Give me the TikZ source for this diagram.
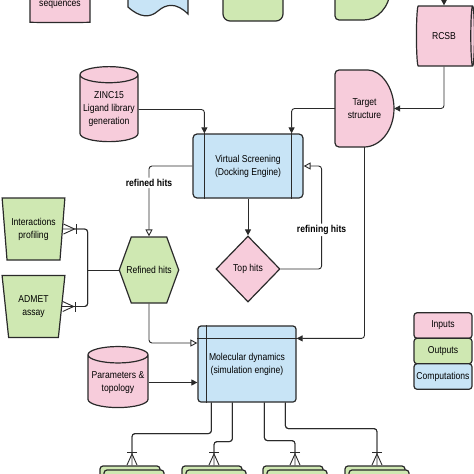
\documentclass[tikz,border=0pt]{standalone}
\usepackage{fontspec}
\setmainfont{Liberation Sans}[FakeStretch=0.86]
\usetikzlibrary{shapes.geometric, shapes.symbols, arrows.meta, shadows}
\definecolor{inpink}{HTML}{F7CCDB}
\definecolor{outgreen}{HTML}{CFE8B2}
\definecolor{compblue}{HTML}{C8E4F6}
\definecolor{inkgray}{HTML}{2A2A2A}

\begin{document}
\begin{tikzpicture}[x=1pt, y=-1pt,
    font=\fontsize{10}{13}\selectfont,
    box/.style={draw=inkgray, line width=1.2pt, align=center, inner sep=1pt},
    inbox/.style={box, fill=inpink},
    outbox/.style={box, fill=outgreen},
    compbox/.style={box, fill=compblue},
    db/.style={cylinder, shape border rotate=90, aspect=0.3},
    funnel/.style={trapezium, shape border rotate=180, trapezium left angle=80,
        trapezium right angle=80, trapezium stretches=true, minimum width=63, minimum height=62},
    stack/.style={rounded corners=3pt, minimum width=60, minimum height=40,
        copy shadow={shadow xshift=-4pt, shadow yshift=4pt}},
    link/.style={draw=inkgray, line width=0.9pt, rounded corners=3pt},
    filledtip/.style={-{Triangle[length=6pt, width=6pt]}},
    opentip/.style={-{Triangle[open, length=7pt, width=7pt]}},
    crow/.style={-{Bar[width=10pt] Straight Barb[reversed, length=11pt, width=10pt]}, postaction={draw, -}},
    lbl/.style={font=\fontsize{10}{13}\selectfont\bfseries, fill=white, inner sep=1.5pt}]
    \useasboundingbox (0,0) rectangle (474,474);

    % top row, cut off by the frame
    \node[db, inbox, minimum width=60, minimum height=76] (seqdb) at (60,-15) {};
    \node (seqtxt) at (60,5) {sequences};
    \draw[compbox] (128,-20) -- (128,7) .. controls (140,18) and (150,18) .. (158,11)
        .. controls (166,4) and (176,2) .. (188,14) -- (188,-20) -- cycle;
    \draw[outbox, rounded corners=7pt] (223,-20) -- (223,21) -- (283,21) -- (283,-20) -- cycle;
    \draw[outbox] (360,20) .. controls (377,20) and (390,7) .. (390,-10) -- (390,-20)
        -- (335,-20) [rounded corners=4pt] -- (335,20) -- cycle;

    % structure source
    \coordinate (pdbin) at (444,-6);
    \node[cylinder, inbox, aspect=0.4, minimum width=60, minimum height=58] (rcsb) at (444,36) {RCSB};
    \draw[inbox] (364,70) .. controls (380.6,70) and (394,87.2) .. (394,108.5)
        .. controls (394,129.8) and (380.6,147) .. (364,147) [rounded corners=4pt]
        -- (335,147) -- (335,70) -- cycle;
    \node[align=center, minimum width=59, minimum height=77] (target) at (364.5,108.5) {Target\\structure};

    % ligands and docking
    \node[db, inbox, minimum width=58, minimum height=75] (zinc) at (109,109.5) {ZINC15\\Ligand library\\generation};
    \node[compbox, rounded corners=4pt, minimum width=110, minimum height=64] (vs) at (248,166)
        {Virtual Screening\\(Docking Engine)};
    \draw[inkgray, line width=1.2pt] ([xshift=12pt]vs.north west) -- ([xshift=12pt]vs.south west)
        ([xshift=-12pt]vs.north east) -- ([xshift=-12pt]vs.south east);
    \node[inbox, diamond, minimum width=64, minimum height=66, inner sep=0pt] (tophits) at (248,269) {Top hits};
    \node[outbox, signal, signal to=east and west, signal pointer angle=140, inner xsep=-5pt,
        minimum height=66] (refined) at (149,270) {Refined hits};

    % analyses of the refined hits
    \node[outbox, funnel] (iprof) at (33.5,229) {Interactions\\profiling};
    \node[outbox, funnel] (admet) at (33.5,306.5) {ADMET\\assay};

    % molecular dynamics
    \node[compbox, rounded corners=3pt, minimum width=98, minimum height=76] (md) at (247,364)
        {Molecular dynamics\\(simulation engine)};
    \draw[inkgray, line width=1.2pt] ([xshift=9pt]md.north west) -- ([xshift=9pt]md.south west)
        ([yshift=-13pt]md.north west) -- ([yshift=-13pt]md.north east);
    \node[db, inbox, minimum width=60, minimum height=61] (params) at (118,382.5) {Parameters \&\\topology};

    % outputs below, cut off by the frame
    \node[outbox, stack] (b1) at (134,490) {};
    \node[outbox, stack] (b2) at (216,490) {};
    \node[outbox, stack] (b3) at (297,490) {};
    \node[outbox, stack] (b4) at (379,490) {};

    % legend
    \node[inbox, rounded corners=3pt, minimum width=58, minimum height=25.5] (leg1) at (443,325.5) {Inputs};
    \node[outbox, rounded corners=3pt, minimum width=58, minimum height=25.5] (leg2) at (443,351) {Outputs};
    \node[compbox, rounded corners=3pt, minimum width=58, minimum height=25.5] (leg3) at (443,376.5) {Computations};

    % connectors
    \draw[link, filledtip] (pdbin) -- (rcsb.north);
    \draw[link, filledtip] (rcsb.south) |- (target.east);
    \draw[link, filledtip] (target.west) -| ([xshift=-12pt]vs.north east);
    \draw[link, filledtip] (zinc.east) -| ([xshift=12pt]vs.north west);
    \draw[link, opentip] (vs.west) -| node[lbl, pos=0.62] {refined hits} (refined.north);
    \draw[link, filledtip] (vs.south) -- (tophits.north);
    \draw[link, opentip] (tophits.east) -- ++(41,0) |- node[lbl, pos=0.19] {refining hits} (vs.east);
    \draw[link, filledtip] (target.south) |- ([yshift=-13pt]md.north east);
    \draw[link, opentip] (refined.south) |- ([yshift=21pt]md.west);
    \draw[link, filledtip] (params.east) -- (params.east -| md.west);
    \draw[link] (refined.west) -- ++(-31,0) coordinate (bus);
    \draw[link, crow] (bus) |- (iprof.east);
    \draw[link, crow] (bus) |- (admet.east);
    \draw[link, crow] ([xshift=14pt]md.south west) -- ++(0,31) -| ([xshift=-2pt,yshift=4pt]b1.north);
    \draw[link, crow] ([xshift=35pt]md.south west) -- ++(0,39) -| ([xshift=-2pt,yshift=4pt]b2.north);
    \draw[link, crow] ([xshift=67pt]md.south west) -- ++(0,38) -| ([xshift=-2pt,yshift=4pt]b3.north);
    \draw[link, crow] ([xshift=88pt]md.south west) -- ++(0,26) -| ([xshift=-2pt,yshift=4pt]b4.north);
\end{tikzpicture}
\end{document}
